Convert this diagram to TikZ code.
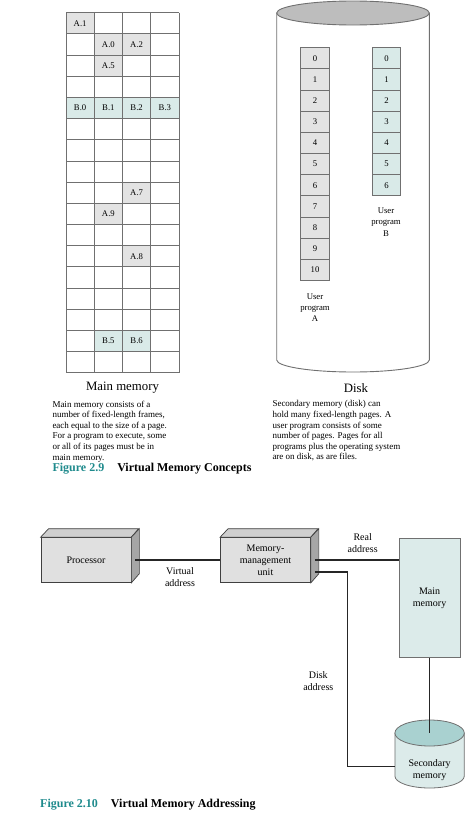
\documentclass[tikz,border=0pt]{standalone}
\usepackage{fontspec}
\setmainfont{Liberation Serif}
\definecolor{cellA}{HTML}{E3E3E3}
\definecolor{cellB}{HTML}{D9EAE8}
\definecolor{gridc}{HTML}{707070}
\definecolor{figteal}{HTML}{1E8A8C}
\definecolor{boxfront}{HTML}{E0E0E0}
\definecolor{boxtop}{HTML}{CFCFCF}
\definecolor{boxside}{HTML}{A6A6A6}
\definecolor{memteal}{HTML}{DCEBEA}
\definecolor{diskcap}{HTML}{A9D1D0}
\definecolor{disktop}{HTML}{BDBDBD}
\begin{document}
\begin{tikzpicture}[x=1pt,y=-1pt,
  fillA/.style={fill=cellA, minimum width=28.25pt, minimum height=21.18pt, inner sep=0pt, font=\fontsize{8.7}{10}\selectfont},
  fillB/.style={fillA, fill=cellB},
  gline/.style={draw=gridc, line width=0.9pt},
  pageA/.style={draw=gridc, line width=0.8pt, fill=cellA, minimum width=28.6pt, minimum height=21.15pt, inner sep=0pt, font=\fontsize{8.7}{10}\selectfont},
  pageB/.style={pageA, fill=cellB},
  lbl/.style={font=\fontsize{8.7}{11.2}\selectfont, align=center, inner sep=0pt},
  titletext/.style={font=\fontsize{12.8}{14}\selectfont, inner sep=0pt},
  para/.style={font=\fontsize{9}{10.6}\selectfont, align=left, anchor=north west, inner sep=0pt},
  figcap/.style={font=\fontsize{12}{14}\selectfont\bfseries, anchor=west, inner sep=0pt},
  box3d/.style={draw=black!75, line width=0.7pt, fill=boxfront, minimum width=90pt, minimum height=45pt, inner sep=0pt, font=\fontsize{10}{11.8}\selectfont, align=center},
  face/.style={draw=black!75, line width=0.7pt},
  conn/.style={draw=black!85, line width=1.5pt},
  elabel/.style={font=\fontsize{10}{12}\selectfont, align=center, inner sep=0pt},
]
\useasboundingbox (0,0) rectangle (474,819);

% ---------- main memory grid ----------
\foreach \n/\t/\c/\r in {a1/A.1/0/0, a0/A.0/1/1, a2/A.2/2/1, a5/A.5/1/2, a7/A.7/2/8, a9/A.9/1/9, a8/A.8/2/11}
  \node[fillA] (\n) at ({66+(\c+0.5)*28.25},{12.7+(\r+0.5)*21.18}) {\t};
\foreach \n/\t/\c/\r in {b0/B.0/0/4, b1/B.1/1/4, b2/B.2/2/4, b3/B.3/3/4, b5/B.5/1/15, b6/B.6/2/15}
  \node[fillB] (\n) at ({66+(\c+0.5)*28.25},{12.7+(\r+0.5)*21.18}) {\t};
\foreach \i in {0,...,4}
  \draw[gline] ({66+\i*28.25},12.7) -- ({66+\i*28.25},372.76);
\foreach \j in {0,...,17}
  \draw[gline] (66,{12.7+\j*21.18}) -- (179,{12.7+\j*21.18});
\node[titletext] (mmt) at (122.5,387.7) {Main memory};

% ---------- disk ----------
\filldraw[fill=white, draw=gridc, line width=0.9pt] (276.7,13) -- (276.7,360)
  arc[start angle=180, end angle=0, x radius=76.3, y radius=12] -- (429.3,13);
\filldraw[fill=disktop, draw=gridc, line width=0.9pt] (353,13) ellipse[x radius=76.3, y radius=12];
\foreach \i in {0,...,10}
  \node[pageA] (pa\i) at (315,{47.7+(\i+0.5)*21.15}) {\i};
\foreach \i in {0,...,6}
  \node[pageB] (pb\i) at (386.5,{47.7+(\i+0.5)*21.15}) {\i};
\node[lbl] (upa) at (315,307.5) {User\\program\\A};
\node[lbl] (upb) at (386,222) {User\\program\\B};
\node[titletext] (dt) at (356,388) {Disk};

% ---------- captions ----------
\node[para] (c1) at (52.3,400.5) {Main memory consists of a\\number of fixed-length frames,\\each equal to the size of a page.\\For a program to execute, some\\or all of its pages must be in\\main memory.};
\node[para] (c2) at (272.3,400.5) {Secondary memory (disk) can\\hold many fixed-length pages. A\\user program consists of some\\number of pages. Pages for all\\programs plus the operating system\\are on disk, as are files.};
\node[figcap] (f9) at (52.3,468.3) {\textcolor{figteal}{Figure 2.9}\hspace{13pt}Virtual Memory Concepts};

% ---------- addressing diagram ----------
\node[box3d] (p) at (86,560) {Processor};
\node[box3d] (mmu) at (265.5,560) {Memory-\\management\\unit};
\foreach \b in {p,mmu} {
  \filldraw[face, fill=boxtop] (\b.north west) -- ++(8,-8.5) -- ++(90,0) -- (\b.north east) -- cycle;
  \filldraw[face, fill=boxside] (\b.north east) -- ++(8,-8.5) -- ++(0,45) -- (\b.south east) -- cycle;
}
\node[draw=gridc, line width=0.8pt, fill=memteal, minimum width=60.7pt, minimum height=119pt, inner sep=0pt, font=\fontsize{10}{12}\selectfont, align=center] (mm) at (429.6,597.8) {Main\\memory};

% secondary memory cylinder
\filldraw[fill=memteal, draw=gridc, line width=0.8pt] (394.9,733) -- (394.9,776)
  arc[start angle=180, end angle=0, x radius=34.7, y radius=12] -- (464.3,733);
\filldraw[fill=diskcap, draw=gridc, line width=0.8pt] (429.6,733) ellipse[x radius=34.7, y radius=13];
\node[elabel] (sec) at (429.6,770) {Secondary\\memory};
\coordinate (secW) at (394.9,766.7);
\coordinate (secTop) at (429.6,733);
\coordinate (dkb) at (347.7,572);

\draw[conn] (p.east) ++(4,0) -- (mmu.west);
\draw[conn] (mmu.east) ++(4,0) -- (mm.west |- mmu.east);
\draw[conn] ([shift={(4,12)}]mmu.east) -- (dkb) |- (secW);
\draw[conn] (mm.south) -- (secTop);

\node[elabel] (va) at (180,577.5) {Virtual\\address};
\node[elabel] (ra) at (362.7,543.3) {Real\\address};
\node[elabel] (da) at (318.3,681) {Disk\\address};

\node[figcap] (f10) at (40,805) {\textcolor{figteal}{Figure 2.10}\hspace{13pt}Virtual Memory Addressing};
\end{tikzpicture}
\end{document}
